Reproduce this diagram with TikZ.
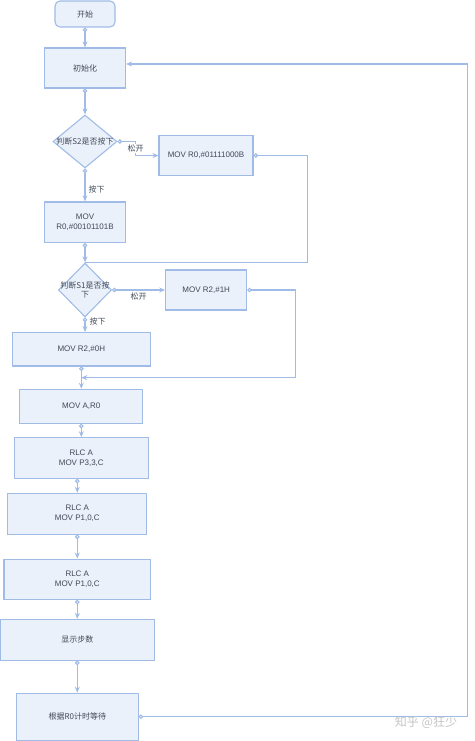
\documentclass[tikz,border=0pt]{standalone}
\usepackage{fontspec}
\setmainfont{Liberation Sans}
\newfontfamily\cjk{Noto Sans CJK SC}
\usepackage{tikz}
\usetikzlibrary{
  arrows.meta,
  shapes.geometric,
  positioning,
  calc
}
\definecolor{fcLine}{HTML}{A0BCE6}
\definecolor{fcFill}{HTML}{EAF1FB}
\definecolor{fcText}{HTML}{404A57}
\definecolor{fcMark}{HTML}{C4C4C4}
\tikzset{
  fcnode/.style={
    draw=fcLine, fill=fcFill, line width=1.1pt, inner sep=1pt,
    align=center, text=fcText, font=\fontsize{8}{10}\selectfont
  },
  startbox/.style={fcnode, rounded corners=5pt},
  opbox/.style={fcnode},
  decision/.style={fcnode, diamond, inner sep=0pt},
  dtext/.style={text=fcText, font=\fontsize{8}{9}\selectfont\cjk, align=center, inner sep=0pt},
  flow/.style={draw=fcLine, line width=1.1pt,
    {Circle[open, fill=white, length=4.5pt, width=4.5pt]}-{Stealth[length=6pt, width=5pt, fill=fcLine]}},
  mergeline/.style={draw=fcLine, line width=1.1pt,
    {Circle[open, fill=white, length=4.5pt, width=4.5pt]}-},
  lbl/.style={font=\fontsize{8}{9}\selectfont\cjk, text=fcText, fill=white, inner sep=1pt}
}

\begin{document}
\begin{tikzpicture}[x=1pt, y=-1pt]
  \useasboundingbox (0,0) rectangle (474,741);

  % main column
  \node[startbox, minimum width=60, minimum height=26] (start) at (85,14) {\cjk 开始};
  \node[opbox, minimum width=81, minimum height=40] (init) at (85,68) {\cjk 初始化};
  \node[decision, minimum width=64, minimum height=53,
    label={[dtext]center:判断S2是否按下}] (d1) at (85,141.5) {};
  \node[opbox, minimum width=94, minimum height=40.5] (r0a) at (206,155.5) {MOV R0,\#01111000B};
  \node[opbox, minimum width=81, minimum height=40.7] (r0b) at (85,222.3) {MOV\\R0,\#00101101B};
  \node[decision, minimum width=53, minimum height=54,
    label={[dtext]center:判断S1是否按\\下}] (d2) at (85,290) {};
  \node[opbox, minimum width=81, minimum height=40] (r2a) at (206.2,290) {MOV R2,\#1H};
  \node[opbox, minimum width=138.4, minimum height=33.3] (r2b) at (81.3,349.3) {MOV R2,\#0H};
  \node[opbox, minimum width=123, minimum height=34] (movA) at (81.3,406.3) {MOV A,R0};
  \node[opbox, minimum width=134, minimum height=40.6] (rlc1) at (81.3,458) {RLC A\\MOV P3,3,C};
  \node[opbox, minimum width=139, minimum height=40.7] (rlc2) at (77.3,513.7) {RLC A\\MOV P1,0,C};
  \node[opbox, minimum width=146.7, minimum height=40.3] (rlc3) at (77.3,579.2) {RLC A\\MOV P1,0,C};
  \node[opbox, minimum width=153.7, minimum height=40.7] (show) at (77.3,639.7) {\cjk 显示步数};
  \node[opbox, minimum width=121.7, minimum height=47] (wait) at (77.3,716.7) {\cjk 根据R0计时等待};

  \coordinate (j1) at ($(r2b.south)!0.5!(movA.north)$);

  % connectors
  \draw[flow] (start) -- (init);
  \draw[flow] (init) -- (d1);
  \draw[flow] (d1.east) -- ++(18,0) |- node[lbl, pos=0.25]{松开} (r0a.west);
  \draw[flow] (d1.south) -- node[lbl, pos=0.65, anchor=west, xshift=2pt, fill=none]{按下} (r0b.north);
  \draw[mergeline] (r0a.east) -- ++(54,0) |- (d2.north);
  \draw[flow] (r0b) -- (d2);
  \draw[flow] (d2.east) -- node[lbl, below=1pt, fill=none]{松开} (r2a.west);
  \draw[flow] (d2.south) -- node[lbl, pos=0.25, anchor=west, xshift=3pt, fill=none]{按下} (d2.south |- r2b.north);
  \draw[flow] (r2a.east) -- ++(48,0) |- (j1);
  \draw[flow] (r2b) -- (movA);
  \draw[flow] (movA) -- (rlc1);
  \draw[flow] (rlc1.south -| rlc2.north) -- (rlc2.north);
  \draw[flow] (rlc2) -- (rlc3);
  \draw[flow] (rlc3) -- (show);
  \draw[flow] (show) -- (wait);
  \draw[flow] (wait.east) -- ++(329,0) |- ([yshift=4pt]init.east);

  \node[font=\fontsize{12}{12}\selectfont\cjk, text=fcMark] (mark) at (426,722) {知乎 @狂少};
\end{tikzpicture}
\end{document}
